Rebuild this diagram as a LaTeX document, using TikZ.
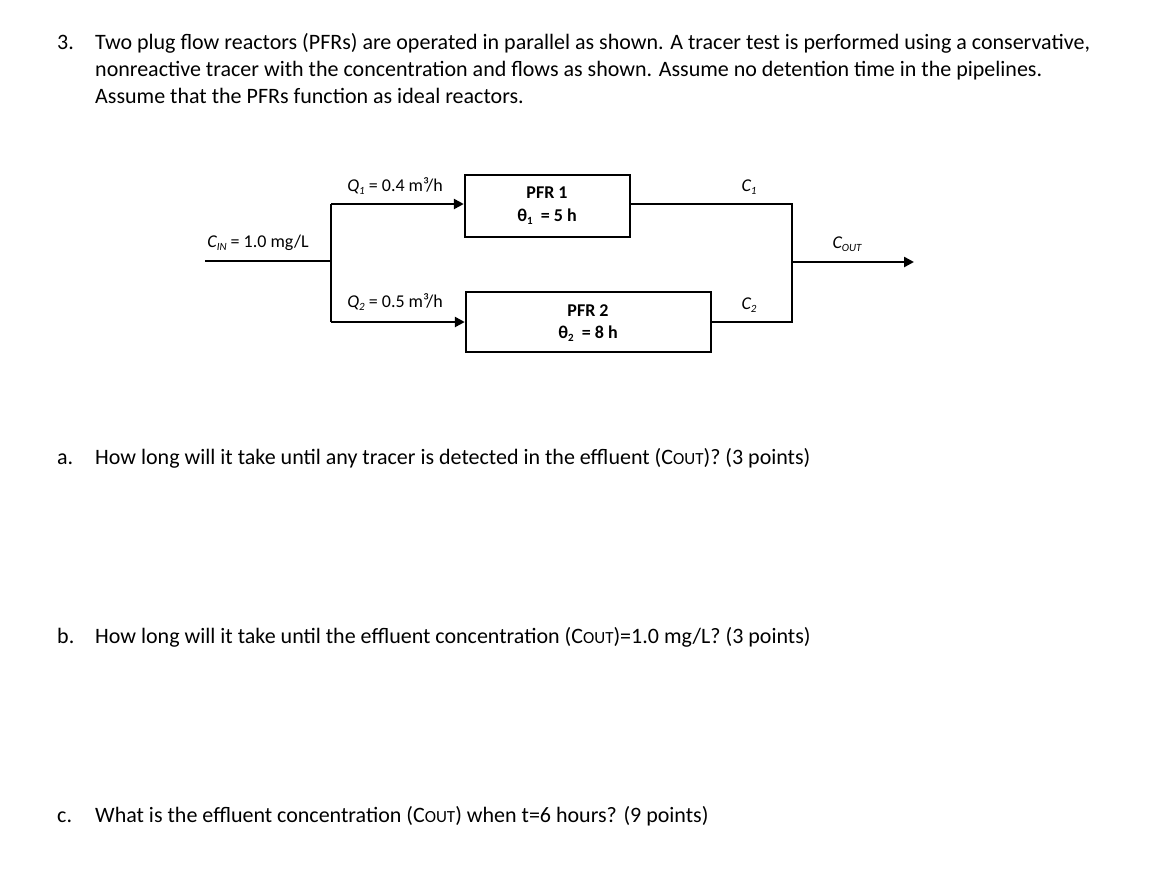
\documentclass[tikz,border=0pt]{standalone}
\usepackage{fontspec}
\setmainfont{Carlito}
\usetikzlibrary{arrows.meta}
\newcommand{\dn}[1]{\raisebox{-0.35ex}{\fontsize{11}{12}\selectfont #1}}
\newcommand{\sco}{{\fontsize{17}{20}\selectfont OUT}}
\begin{document}
\begin{tikzpicture}[x=1pt,y=-1pt,
  txt/.style={anchor=base west,inner sep=0pt,font=\fontsize{22}{26}\selectfont},
  lbl/.style={inner sep=0pt,font=\fontsize{18}{21}\selectfont},
  blbl/.style={inner sep=0pt,font=\fontsize{18}{21}\selectfont\bfseries},
  box/.style={draw,line width=2.4pt,inner sep=0pt},
  pipe/.style={line width=2.4pt},
  arr/.style={pipe,-{Triangle[length=10pt,width=10pt]}}]
\useasboundingbox (0,0) rectangle (1150,892);
\node[txt] (n3) at (57,49) {3.};
\node[txt] (l1) at (95,49) {Two plug flow reactors (PFRs) are operated in parallel as shown. A tracer test is performed using a conservative,};
\node[txt] (l2) at (95,76) {nonreactive tracer with the concentration and flows as shown. Assume no detention time in the pipelines.};
\node[txt] (l3) at (95,103) {Assume that the PFRs function as ideal reactors.};
% boxes
\node[box,minimum width=165pt,minimum height=62pt] (p1) at (547.5,206) {};
\node[blbl] (p1a) at (547,193) {PFR 1};
\node[blbl] (p1b) at (547,217) {θ\dn{1}\ \ = 5 h};
\node[box,minimum width=245pt,minimum height=60pt] (p2) at (588.5,322) {};
\node[blbl] (p2a) at (588,311) {PFR 2};
\node[blbl] (p2b) at (588,334) {θ\dn{2}\ \ = 8 h};
\coordinate (in) at (205,261);
\coordinate (s) at (331,261);
\coordinate (st) at (331,204);
\coordinate (sb) at (331,322);
\coordinate (jt) at (792,204);
\coordinate (jb) at (792,322);
\coordinate (j) at (792,262);
\coordinate (out) at (914,262);
\draw[pipe] (in) -- (s);
\draw[pipe] (st) -- (sb);
\draw[arr] (st) -- (p1.west |- st);
\draw[arr] (sb) -- (p2.west |- sb);
\draw[pipe] (p1.east |- jt) -- (jt) -- (jb) -- (p2.east |- jb);
\draw[arr] (j) -- (out);
\node[lbl] (q1) at (395,186) {\textit{Q\dn{1}} = 0.4 m³/h};
\node[lbl] (q2) at (395,302) {\textit{Q\dn{2}} = 0.5 m³/h};
\node[lbl] (cin) at (258,243) {\textit{C\dn{IN}} = 1.0 mg/L};
\node[lbl] (c1) at (749,187) {\textit{C\dn{1}}};
\node[lbl] (c2) at (749,305) {\textit{C\dn{2}}};
\node[lbl] (co) at (847,244) {\textit{C\dn{OUT}}};
% questions
\node[txt] (qa) at (57,464) {a.};
\node[txt] (qat) at (95,464) {How long will it take until any tracer is detected in the effluent (C\sco)? (3 points)};
\node[txt] (qb) at (57,643) {b.};
\node[txt] (qbt) at (95,643) {How long will it take until the effluent concentration (C\sco)=1.0 mg/L? (3 points)};
\node[txt] (qc) at (57,822) {c.};
\node[txt] (qct) at (95,822) {What is the effluent concentration (C\sco) when t=6 hours? (9 points)};
\end{tikzpicture}
\end{document}
